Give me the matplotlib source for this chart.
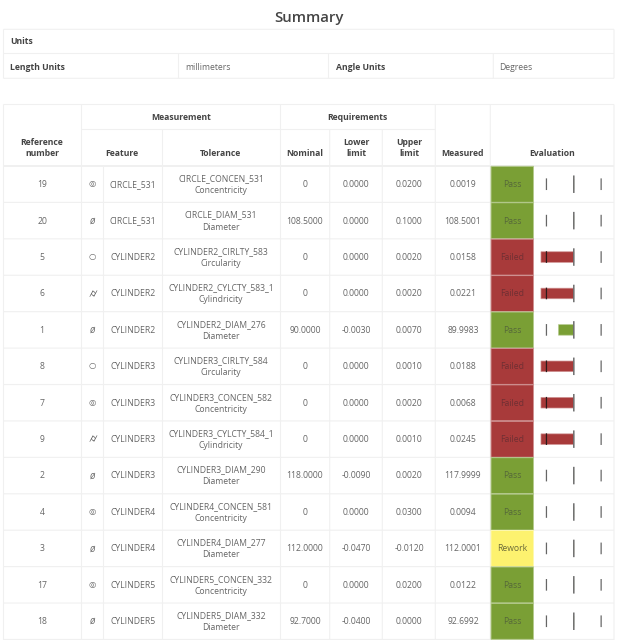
import matplotlib
matplotlib.use("Agg")
import matplotlib.pyplot as plt
from matplotlib import font_manager as fm
from matplotlib.font_manager import FontProperties
from matplotlib.patches import Rectangle, Ellipse

plt.rcParams['font.family'] = ['Open Sans', 'DejaVu Sans', 'Noto Sans CJK JP']

# ---------- data ----------
ref_numbers = [19, 20, 5, 6, 1, 8, 7, 9, 2, 4, 3, 17, 18]
symbols = ['◎', 'ø', '○', '⌭', 'ø', '○', '◎', '⌭', 'ø', '◎', 'ø', '◎', 'ø']
features = ['CIRCLE_531', 'CIRCLE_531', 'CYLINDER2', 'CYLINDER2', 'CYLINDER2', 'CYLINDER3', 'CYLINDER3',
            'CYLINDER3', 'CYLINDER3', 'CYLINDER4', 'CYLINDER4', 'CYLINDER5', 'CYLINDER5']
tolerance_names = ['CIRCLE_CONCEN_531', 'CIRCLE_DIAM_531', 'CYLINDER2_CIRLTY_583', 'CYLINDER2_CYLCTY_583_1',
                   'CYLINDER2_DIAM_276', 'CYLINDER3_CIRLTY_584', 'CYLINDER3_CONCEN_582', 'CYLINDER3_CYLCTY_584_1',
                   'CYLINDER3_DIAM_290', 'CYLINDER4_CONCEN_581', 'CYLINDER4_DIAM_277', 'CYLINDER5_CONCEN_332',
                   'CYLINDER5_DIAM_332']
tolerance_types = ['Concentricity', 'Diameter', 'Circularity', 'Cylindricity', 'Diameter', 'Circularity',
                   'Concentricity', 'Cylindricity', 'Diameter', 'Concentricity', 'Diameter', 'Concentricity', 'Diameter']
nominal = ['0', '108.5000', '0', '0', '90.0000', '0', '0', '0', '118.0000', '0', '112.0000', '0', '92.7000']
lower = ['0.0000', '0.0000', '0.0000', '0.0000', '-0.0030', '0.0000', '0.0000', '0.0000', '-0.0090', '0.0000',
         '-0.0470', '0.0000', '-0.0400']
upper = ['0.0200', '0.1000', '0.0020', '0.0020', '0.0070', '0.0010', '0.0020', '0.0010', '0.0020', '0.0300',
         '-0.0120', '0.0200', '0.0000']
measured = ['0.0019', '108.5001', '0.0158', '0.0221', '89.9983', '0.0188', '0.0068', '0.0245', '117.9999', '0.0094',
            '112.0001', '0.0122', '92.6992']
status = ['Pass', 'Pass', 'Failed', 'Failed', 'Pass', 'Failed', 'Failed', 'Failed', 'Pass', 'Pass', 'Rework', 'Pass', 'Pass']
# bullet bars, in units where lower tick = -1, centre = 0, upper tick = +1
bar_values = [0, 0, -1.2, -1.2, -0.56, -1.2, -1.2, -1.2, 0, 0, 0, 0, 0]
lower_marks = [-1] * 13
centre_marks = [0] * 13
upper_marks = [1] * 13

# ---------- style / layout ----------
W, H = 624, 640
GRID = '#f0f0f0'
TXT = '#666666'
HEAD = '#444444'
COL = {'Pass': '#7a9f35', 'Failed': '#a83a3a', 'Rework': '#fdf26f'}
EDGE = {'Pass': '#b5ca8e', 'Failed': '#cf9292', 'Rework': '#fdf8b0'}
STXT = {'Pass': '#56683a', 'Failed': '#6f2f33', 'Rework': '#6b6a3a'}
FS = 6.2
LW = 0.8

# is there an installed face that has the cylindricity sign?
cyl_font = None
for f in fm.fontManager.ttflist:
    try:
        if 0x232D in fm.get_font(f.fname).get_charmap():
            cyl_font = f.fname
            break
    except Exception:
        pass

fig = plt.figure(figsize=(W / 100, H / 100), dpi=100, facecolor='white')
ax = fig.add_axes([0, 0, 1, 1])
ax.set_xlim(0, W)
ax.set_ylim(H, 0)
ax.axis('off')


def hl(y, a, b, lw=LW):
    ax.plot([a, b], [y, y], color=GRID, lw=lw, solid_capstyle='butt', zorder=1, snap=False)


def vl(x, a, b, lw=LW):
    ax.plot([x, x], [a, b], color=GRID, lw=lw, solid_capstyle='butt', zorder=1, snap=False)


def t(x, y, s, bold=False, size=FS, color=None, ha='center', **kw):
    ax.text(x, y, s, ha=ha, va='center', fontsize=size, fontweight='bold' if bold else 'normal',
            color=color or (HEAD if bold else TXT), zorder=5, **kw)


def cylindricity(x, y):
    if cyl_font:
        ax.text(x, y, '⌭', ha='center', va='center', fontproperties=FontProperties(fname=cyl_font, size=6.5),
                color='#555555', zorder=5)
    else:
        ax.add_patch(Ellipse((x, y), 4.2, 4.2, fill=False, edgecolor='#666666', lw=0.9, zorder=5))
        for d in (-1.3, 1.3):
            ax.plot([x - 3.2 + d, x + 3.2 + d], [y + 3.2 + d, y - 3.2 + d], color='#666666', lw=0.7, zorder=5,
                    solid_capstyle='butt')


ax.text(308.5, 18, 'Summary', ha='center', va='center', fontsize=10.7, color='#444444', fontweight='semibold')

# units table
L, R = 3.5, 614.0
for y in (29.3, 53.5, 78.3):
    hl(y, L, R)
vl(L, 29.3, 78.3)
vl(R, 29.3, 78.3)
for x in (178.5, 328.5, 493.3):
    vl(x, 53.5, 78.3)
t(10.5, 42, 'Units', bold=True, ha='left')
t(10.5, 67, 'Length Units', bold=True, ha='left')
t(185, 67, 'millimeters', ha='left')
t(335.5, 67, 'Angle Units', bold=True, ha='left')
t(499.5, 67, 'Degrees', ha='left')

# main table grid
TOP, SUB, BODY, BOT = 104.5, 129.5, 166.0, 640
ROW = 36.42
cx = [3.5, 81.5, 103.5, 162.5, 280.5, 329.7, 382.3, 435.3, 490.3, 533.5, 614.0]
hl(TOP, L, R)
hl(SUB, cx[1], cx[7])
hl(BODY, L, R, lw=1.4)
for i in range(1, 14):
    hl(BODY + i * ROW, L, R)
for x in (cx[0], cx[1], cx[4], cx[7], cx[8], cx[10]):
    vl(x, TOP, BOT)
for x in (cx[3], cx[5], cx[6]):
    vl(x, SUB, BOT)
vl(cx[2], BODY, BOT)

# headers
t(42, 142.5, 'Reference', bold=True)
t(42, 154, 'number', bold=True)
t(181, 117.5, 'Measurement', bold=True)
t(357.5, 117.5, 'Requirements', bold=True)
t(122, 154, 'Feature', bold=True)
t(221, 154, 'Tolerance', bold=True)
t(305, 154, 'Nominal', bold=True)
t(356, 142.5, 'Lower', bold=True)
t(356, 154, 'limit', bold=True)
t(409, 142.5, 'Upper', bold=True)
t(409, 154, 'limit', bold=True)
t(463, 154, 'Measured', bold=True)
t(552, 154, 'Evaluation', bold=True)

# body
for i in range(13):
    yc = BODY + (i + 0.5) * ROW + 0.4
    t(42, yc, str(ref_numbers[i]))
    if symbols[i] == '⌭':
        cylindricity(92.5, yc)
    elif symbols[i] == 'ø':
        t(92.5, yc, 'ø', size=7, color='#666666', style='italic')
    else:
        t(92.5, yc, symbols[i], size=6, color='#666666')
    t(133, yc, features[i])
    t(221, yc - 6, tolerance_names[i])
    t(221, yc + 6, tolerance_types[i])
    t(305, yc, nominal[i])
    t(356, yc, lower[i])
    t(409, yc, upper[i])
    t(463, yc, measured[i])
    s = status[i]
    ax.add_patch(Rectangle((491, BODY + i * ROW + 0.3), 42.5, ROW - 0.4, facecolor=COL[s], edgecolor=EDGE[s],
                           lw=0.7, zorder=2, snap=False))
    t(512, yc, s, color=STXT[s])

# bullet column: data axes for the evaluation marks
PX = 27.35
x0 = 573.8
ax2 = fig.add_axes([cx[9] / W, 1 - (BODY + 13 * ROW) / H, (cx[10] - cx[9]) / W, 13 * ROW / H])
ax2.set_xlim((cx[9] - x0) / PX, (cx[10] - x0) / PX)
ax2.set_ylim(13, 0)
ax2.axis('off')
ax2.patch.set_alpha(0)
rows = [i + 0.5 for i in range(13)]
edge = [EDGE[s] for s in status]
bars = ax2.barh(rows, bar_values, height=0.29, color=[COL[s] for s in status], edgecolor=edge, linewidth=0.5, zorder=2)
for b in bars:
    b.set_snap(False)
for i, r in enumerate(rows):
    dark = status[i] == 'Failed'
    ax2.plot([lower_marks[i]] * 2, [r - 0.16, r + 0.16], color='#2a1a1a' if dark else '#666666', lw=0.9,
             solid_capstyle='butt', zorder=3, snap=False)
    ax2.plot([centre_marks[i]] * 2, [r - 0.24, r + 0.24], color='#6f6f6f', lw=1.1, solid_capstyle='butt', zorder=3, snap=False)
    ax2.plot([upper_marks[i]] * 2, [r - 0.16, r + 0.16], color='#777777', lw=1.0, solid_capstyle='butt', zorder=3, snap=False)

fig.savefig('out.png', dpi=100)
